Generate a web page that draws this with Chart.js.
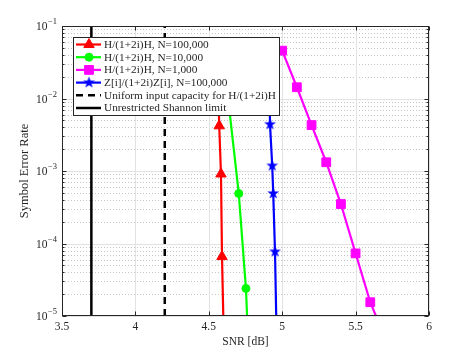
<!DOCTYPE html>
<html><head><meta charset="utf-8">
<script src="https://cdn.jsdelivr.net/npm/chart.js@4.4.1/dist/chart.umd.min.js"></script>
<style>html,body{margin:0;padding:0;background:#fff}canvas{display:block}</style>
</head><body>
<canvas id="c" width="474" height="355"></canvas>
<script>
// ---- data ----
const xTickLabels = ['3.5','4','4.5','5','5.5','6'];
const yTickValues = [1e-5, 1e-4, 1e-3, 1e-2, 1e-1];
const yTickBase = '10';
const yTickExps = ['\u22125','\u22124','\u22123','\u22122','\u22121'];

const seriesLabels = [
  'H/(1+2i)H, N=100,000',
  'H/(1+2i)H, N=10,000',
  'H/(1+2i)H, N=1,000',
  'Z[i]/(1+2i)Z[i], N=100,000',
  'Uniform input capacity for H/(1+2i)H',
  'Unrestricted Shannon limit'
];

const snrN100k = [4.565, 4.571, 4.583, 4.590, 4.602];
const serN100k = [1.2e-2, 4.2e-3, 9.1e-4, 6.6e-5, 5e-6];

const snrN10k = [4.640, 4.704, 4.753, 4.767];
const serN10k = [7e-3, 4.9e-4, 2.4e-5, 5e-6];

const snrN1k = [5.0, 5.1, 5.2, 5.3, 5.4, 5.5, 5.6, 5.7];
const serN1k = [4.57e-2, 1.43e-2, 4.3e-3, 1.32e-3, 3.5e-4, 7.3e-5, 1.55e-5, 5e-6];

const snrZ = [4.914, 4.917, 4.932, 4.939, 4.951, 4.962];
const serZ = [1.2e-2, 4.4e-3, 1.18e-3, 4.9e-4, 7.7e-5, 5e-6];

const uniformCapX = [4.2, 4.2];
const shannonX = [3.7, 3.7];
const limitY = [1e-5, 1e-1];

// ---- helpers ----
function pts(xs, ys){ return xs.map((x,i)=>({x:x, y:ys[i]})); }
function makeStar(r, color){
  const c = document.createElement('canvas');
  const s = Math.ceil(2*r+2);
  c.width = s; c.height = s;
  const g = c.getContext('2d');
  g.fillStyle = color;
  g.beginPath();
  const cx = s/2, cy = s/2, ri = r*0.40;
  for (let k=0;k<10;k++){
    const a = -Math.PI/2 + k*Math.PI/5;
    const rr = (k%2===0)? r : ri;
    const px = cx + rr*Math.cos(a), py = cy + rr*Math.sin(a);
    if(k===0) g.moveTo(px,py); else g.lineTo(px,py);
  }
  g.closePath(); g.fill();
  return c;
}
const starImg = makeStar(6.2, '#0000ff');

const FONT = '"Liberation Serif", "Times New Roman", serif';
const TXT = '#262626';

function drawMarker(ctx, style, x, y, r, color){
  ctx.save();
  ctx.fillStyle = color; ctx.strokeStyle = color; ctx.lineWidth = 1;
  ctx.beginPath();
  if (style === 'triangle'){
    let a = 0;
    ctx.moveTo(x + Math.sin(a)*r, y - Math.cos(a)*r);
    a += 2*Math.PI/3; ctx.lineTo(x + Math.sin(a)*r, y - Math.cos(a)*r);
    a += 2*Math.PI/3; ctx.lineTo(x + Math.sin(a)*r, y - Math.cos(a)*r);
    ctx.closePath(); ctx.fill(); ctx.stroke();
  } else if (style === 'circle'){
    ctx.arc(x, y, r, 0, 2*Math.PI); ctx.fill(); ctx.stroke();
  } else if (style === 'rect'){
    const s = r/Math.SQRT2;
    ctx.rect(x-s, y-s, 2*s, 2*s); ctx.fill(); ctx.stroke();
  } else if (style instanceof HTMLCanvasElement){
    ctx.drawImage(style, x - style.width/2, y - style.height/2);
  }
  ctx.restore();
}

const framePlugin = {
  id: 'frame',
  beforeDatasetsDraw(chart){
    const {ctx, chartArea: a, scales: {x, y}} = chart;
    ctx.save();
    ctx.strokeStyle = '#c4c4c4'; ctx.lineWidth = 1; ctx.setLineDash([1,2]);
    for (let i=0;i<yTickValues.length-1;i++){
      for (let m=2;m<=9;m++){
        const py = Math.round(y.getPixelForValue(m*yTickValues[i])) + 0.5;
        ctx.beginPath(); ctx.moveTo(a.left, py); ctx.lineTo(a.right, py); ctx.stroke();
      }
    }
    ctx.setLineDash([]);
    ctx.strokeStyle = '#e2e2e2';
    yTickValues.forEach(v=>{
      const py = Math.round(y.getPixelForValue(v)) + 0.5;
      ctx.beginPath(); ctx.moveTo(a.left, py); ctx.lineTo(a.right, py); ctx.stroke();
    });
    x.ticks.forEach(t=>{
      const px = Math.round(x.getPixelForValue(t.value)) + 0.5;
      ctx.beginPath(); ctx.moveTo(px, a.top); ctx.lineTo(px, a.bottom); ctx.stroke();
    });
    ctx.restore();
  },
  afterDatasetsDraw(chart){
    const {ctx, chartArea: a, scales: {x, y}} = chart;
    ctx.save();
    ctx.strokeStyle = TXT; ctx.lineWidth = 1;
    const L = Math.round(a.left)+0.5, R = Math.round(a.right)-0.5, T = Math.round(a.top)+0.5, B = Math.round(a.bottom)-0.5;
    ctx.strokeRect(L, T, R-L, B-T);
    x.ticks.forEach(t=>{
      const px = Math.round(x.getPixelForValue(t.value)) + 0.5;
      ctx.beginPath();
      ctx.moveTo(px, B); ctx.lineTo(px, B-4);
      ctx.moveTo(px, T); ctx.lineTo(px, T+4);
      ctx.stroke();
    });
    for (let i=0;i<yTickValues.length;i++){
      const py = Math.round(y.getPixelForValue(yTickValues[i])) + 0.5;
      ctx.beginPath();
      ctx.moveTo(L, py); ctx.lineTo(L+4, py);
      ctx.moveTo(R, py); ctx.lineTo(R-4, py);
      ctx.stroke();
      if (i < yTickValues.length-1){
        for (let m=2;m<=9;m++){
          const pm = Math.round(y.getPixelForValue(m*yTickValues[i])) + 0.5;
          ctx.beginPath();
          ctx.moveTo(L, pm); ctx.lineTo(L+2, pm);
          ctx.moveTo(R, pm); ctx.lineTo(R-2, pm);
          ctx.stroke();
        }
      }
    }
    ctx.fillStyle = TXT;
    ctx.textBaseline = 'middle';
    for (let i=0;i<yTickValues.length;i++){
      const py = y.getPixelForValue(yTickValues[i]);
      ctx.font = '8.5px ' + FONT;
      const ew = ctx.measureText(yTickExps[i]).width;
      const x0 = 57 - ew;
      ctx.textAlign = 'left';
      ctx.fillText(yTickExps[i], x0, py - 4);
      ctx.font = '11.5px ' + FONT;
      ctx.textAlign = 'right';
      ctx.fillText(yTickBase, x0 - 0.5, py + 1);
    }
    ctx.restore();
  },
  afterDraw(chart){
    const {ctx} = chart;
    const bx = 73.5, by = 37.5, bw = 206, bh = 78;
    ctx.save();
    ctx.fillStyle = '#ffffff';
    ctx.fillRect(bx, by, bw, bh);
    ctx.strokeStyle = '#262626'; ctx.lineWidth = 1;
    ctx.strokeRect(bx, by, bw, bh);
    ctx.font = '11.3px ' + FONT;
    ctx.textBaseline = 'middle'; ctx.textAlign = 'left';
    chart.data.datasets.forEach((ds, i)=>{
      const ry = 44.5 + i*12.7;
      ctx.save();
      ctx.strokeStyle = ds.borderColor; ctx.lineWidth = ds.borderWidth;
      ctx.setLineDash(ds.borderDash || []);
      ctx.beginPath(); ctx.moveTo(76, ry); ctx.lineTo(101, ry); ctx.stroke();
      ctx.restore();
      if (ds.pointRadius > 0) drawMarker(ctx, ds.pointStyle, 89, ry, ds.pointRadius, ds.pointBackgroundColor);
      ctx.fillStyle = TXT;
      ctx.fillText(ds.label, 104, ry + 0.5);
    });
    ctx.restore();
  }
};

const common = {showLine: true, borderWidth: 2.2, clip: 0, pointBorderWidth: 1, tension: 0};

new Chart(document.getElementById('c'), {
  type: 'line',
  data: {
    datasets: [
      Object.assign({}, common, {label: seriesLabels[0], data: pts(snrN100k, serN100k), borderColor: '#ff0000', pointBackgroundColor: '#ff0000', pointBorderColor: '#ff0000', pointStyle: 'triangle', pointRadius: 6}),
      Object.assign({}, common, {label: seriesLabels[1], data: pts(snrN10k, serN10k), borderColor: '#00ff00', pointBackgroundColor: '#00ff00', pointBorderColor: '#00ff00', pointStyle: 'circle', pointRadius: 4}),
      Object.assign({}, common, {label: seriesLabels[2], data: pts(snrN1k, serN1k), borderColor: '#ff00ff', pointBackgroundColor: '#ff00ff', pointBorderColor: '#ff00ff', pointStyle: 'rect', pointRadius: 6.2}),
      Object.assign({}, common, {label: seriesLabels[3], data: pts(snrZ, serZ), borderColor: '#0000ff', pointBackgroundColor: '#0000ff', pointBorderColor: '#0000ff', pointStyle: starImg, pointRadius: 6.2}),
      Object.assign({}, common, {label: seriesLabels[4], data: pts(uniformCapX, limitY), borderColor: '#000000', borderWidth: 2.5, borderDash: [7,5], pointRadius: 0}),
      Object.assign({}, common, {label: seriesLabels[5], data: pts(shannonX, limitY), borderColor: '#000000', borderWidth: 2.5, pointRadius: 0})
    ]
  },
  options: {
    responsive: false,
    animation: false,
    events: [],
    layout: {padding: {top: 26, right: 45, left: 0, bottom: 0}},
    plugins: {legend: {display: false}, tooltip: {enabled: false}},
    scales: {
      x: {
        type: 'linear', min: 3.5, max: 6,
        grid: {display: false, drawTicks: false}, border: {display: false},
        ticks: {stepSize: 0.5, padding: 4, color: TXT, font: {family: FONT, size: 11.5},
          callback: (v, i) => xTickLabels[i]},
        title: {display: true, text: 'SNR [dB]', color: TXT, font: {family: FONT, size: 11.5}, padding: {top: 0, bottom: 6}},
        afterFit: s => { s.height = 39; }
      },
      y: {
        type: 'logarithmic', min: 1e-5, max: 1e-1,
        grid: {display: false, drawTicks: false}, border: {display: false},
        ticks: {display: false},
        title: {display: true, text: 'Symbol Error Rate', color: TXT, font: {family: FONT, size: 12.5}, padding: {top: 17, bottom: 0}},
        afterFit: s => { s.width = 62; }
      }
    }
  },
  plugins: [framePlugin]
});
</script>
</body></html>
